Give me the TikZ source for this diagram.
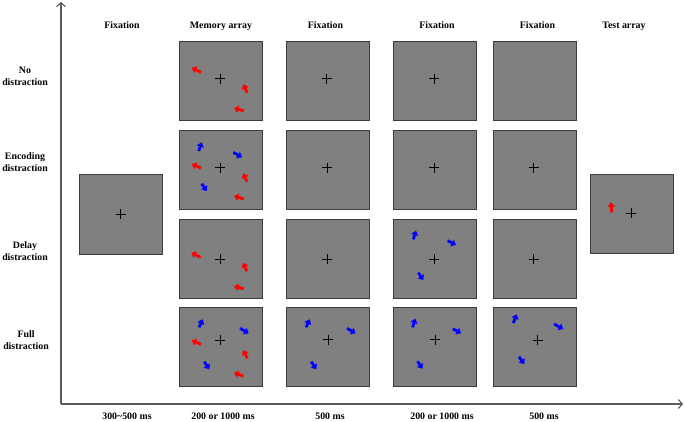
\documentclass[tikz,border=0pt]{standalone}
\usepackage{fontspec}
\setmainfont{Liberation Serif}
\usetikzlibrary{arrows.meta}
\definecolor{boxfill}{HTML}{808080}
\definecolor{boxline}{HTML}{3C3C3C}
\definecolor{axisgray}{HTML}{5A5A5A}
\definecolor{stimred}{HTML}{FF0000}
\definecolor{stimblue}{HTML}{0000FF}
\tikzset{
  stimbox/.style={fill=boxfill,draw=boxline,line width=1bp},
  lbl/.style={font=\fontsize{9.9}{12}\selectfont\bfseries,inner sep=0pt,align=center},
  axisline/.style={draw=axisgray,line width=1.1bp,-{Straight Barb[length=4bp,width=9bp]}},
  ra/.style={draw=stimred,line width=2.8bp,-{Triangle[length=4.5bp,width=7.5bp,line width=0pt]},fill=stimred},
  ba/.style={draw=stimblue,line width=2.8bp,-{Triangle[length=4.5bp,width=7.5bp,line width=0pt]},fill=stimblue},
  fixc/.pic={\draw[black,line width=0.8bp] (-5,0)--(5,0) (0,-5)--(0,5);}
}
\begin{document}
\begin{tikzpicture}[x=1bp,y=-1bp]
\useasboundingbox (0,0) rectangle (685,421);
% axes
\coordinate (o) at (61,404);
\coordinate (ytop) at (61,2);
\coordinate (xend) at (683,404);
\draw[axisline] (o) -- (ytop);
\draw[axisline] (o) -- (xend);
% headers
\node[lbl,anchor=base] (h0) at (122,28.7) {Fixation};
\node[lbl,anchor=base] (h1) at (221,28.7) {Memory array};
\node[lbl,anchor=base] (h2) at (325.5,28.7) {Fixation};
\node[lbl,anchor=base] (h3) at (437,28.7) {Fixation};
\node[lbl,anchor=base] (h4) at (537.5,28.7) {Fixation};
\node[lbl,anchor=base] (h5) at (624,28.7) {Test array};
% row labels
\node[lbl] (r1) at (25,76) {No\\distraction};
\node[lbl] (r2) at (25,161.7) {Encoding\\distraction};
\node[lbl] (r3) at (25,251) {Delay\\distraction};
\node[lbl] (r4) at (26,340.5) {Full\\distraction};
% time labels
\node[lbl,anchor=base] (t0) at (127,419) {300\textasciitilde500 ms};
\node[lbl,anchor=base] (t1) at (223,419) {200 or 1000 ms};
\node[lbl,anchor=base] (t2) at (330,419) {500 ms};
\node[lbl,anchor=base] (t3) at (442,419) {200 or 1000 ms};
\node[lbl,anchor=base] (t4) at (544,419) {500 ms};
% boxes
\draw[stimbox] (79.3,174.7) rectangle (162.3,254);
\draw[stimbox] (590,174.7) rectangle (673,253.3);
\foreach \x in {179,286,393.3,493.3}{
  \foreach \y in {41.5,130.7,219.3,307.3}{
    \draw[stimbox] (\x,\y) rectangle ++(83,79);
  }
}
% fixation crosses
\pic at (120.7,214) {fixc};
\pic at (631,213.3) {fixc};
\pic at (220.3,78.7) {fixc};
\pic at (326.7,78.7) {fixc};
\pic at (434.3,78.7) {fixc};
\pic at (220.3,167.7) {fixc};
\pic at (327,167.5) {fixc};
\pic at (434.3,167.5) {fixc};
\pic at (533.5,167.5) {fixc};
\pic at (220.3,259) {fixc};
\pic at (327,259) {fixc};
\pic at (434.3,259.3) {fixc};
\pic at (533.5,259) {fixc};
\pic at (220.3,340) {fixc};
\pic at (328,339.5) {fixc};
\pic at (435,339.5) {fixc};
\pic at (537.5,340) {fixc};
% row 1 memory
\draw[ra] (201,72.3) -- (191.7,67.7);
\draw[ra] (247.3,92.7) -- (243.3,84.3);
\draw[ra] (243.7,110.7) -- (234,108.3);
% row 2 memory
\draw[ba] (198.7,151) -- (201.7,142.3);
\draw[ba] (233.3,152.3) -- (242,157.3);
\draw[ra] (201,168) -- (191.7,164);
\draw[ra] (247,181.7) -- (243.3,173.3);
\draw[ba] (201.7,183.7) -- (206.7,191);
\draw[ra] (243.7,199) -- (234,196);
% row 3 memory
\draw[ra] (200.7,257.3) -- (191.3,252.7);
\draw[ra] (247,271.2) -- (243,262.8);
\draw[ra] (243.6,288.7) -- (234,286.3);
% row 3 col 3
\draw[ba] (413.3,239.3) -- (416,230.7);
\draw[ba] (447.7,240.7) -- (456,245);
\draw[ba] (418.3,272.7) -- (423.3,280);
% row 4 memory
\draw[ba] (199,327.3) -- (202.7,319.3);
\draw[ba] (240,328.3) -- (248.7,333.3);
\draw[ra] (201,344.3) -- (191.7,340.3);
\draw[ra] (247.3,358.3) -- (243.3,350);
\draw[ba] (204.3,361.7) -- (209.3,369.3);
\draw[ra] (243.3,376) -- (234,372.7);
% row 4 col 2
\draw[ba] (306,327.3) -- (309.7,319.3);
\draw[ba] (347,328.3) -- (355.7,333.3);
\draw[ba] (311.3,361.7) -- (316.3,369.3);
% row 4 col 3
\draw[ba] (412.6,327.3) -- (415.3,318.7);
\draw[ba] (452.8,328.8) -- (461.2,333.2);
\draw[ba] (417.5,361.3) -- (422.5,368.7);
% row 4 col 4
\draw[ba] (513.3,323) -- (516.7,314.3);
\draw[ba] (554,324) -- (563.3,329);
\draw[ba] (519,356.7) -- (524.3,364);
% test array
\draw[ra] (611.7,212.3) -- (611,202.3);
\end{tikzpicture}
\end{document}
